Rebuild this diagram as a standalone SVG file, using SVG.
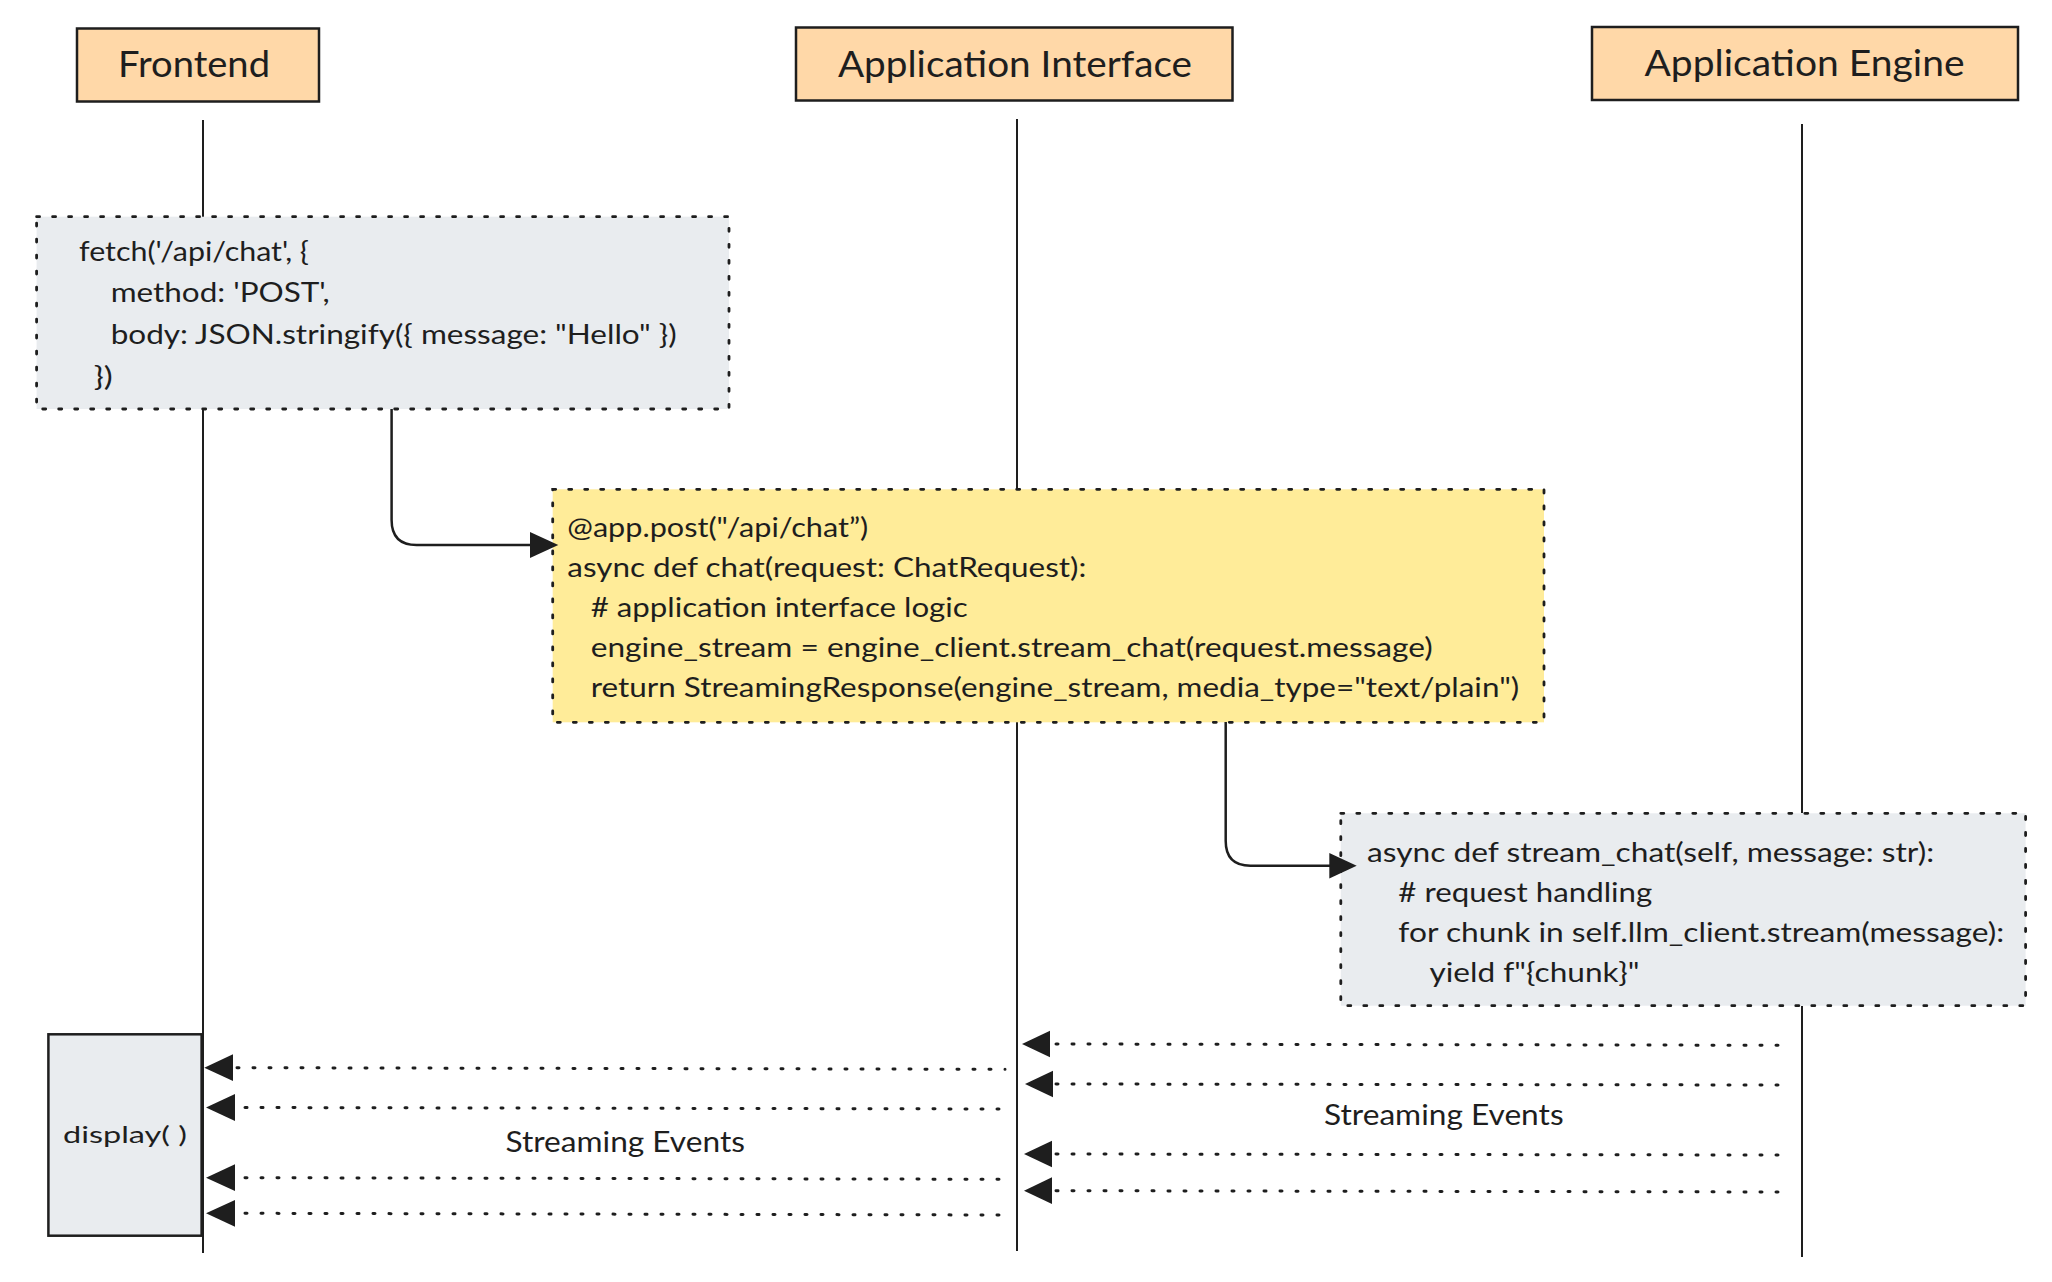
<svg xmlns="http://www.w3.org/2000/svg" width="2052" height="1282" viewBox="0 0 2052 1282">
<defs>
<style>
.hdr{fill:#ffd8a8;stroke:#1e1e1e;stroke-width:2.5}
.code{stroke:#1e1e1e;stroke-width:2.8;stroke-dasharray:3 13;stroke-linecap:round}
.gray{fill:#e9ecef}
.yel{fill:#ffec99}
.life{stroke:#1e1e1e;stroke-width:2;fill:none}
.conn{stroke:#1e1e1e;stroke-width:2.5;fill:none}
.dot{stroke:#1e1e1e;stroke-width:3;fill:none;stroke-dasharray:2 14;stroke-linecap:round}
.head{fill:#1e1e1e}
text{font-family:Lato,"Noto Sans",sans-serif;fill:#1e1e1e}
.ht{font-size:36px;text-anchor:start}
.ct{font-size:27px}
.lt{font-size:28px}
</style>
</defs>
<rect width="2052" height="1282" fill="#ffffff"/>
<g id="lifelines">
<path class="life" d="M203 120V217M203 409V1253"/>
<path class="life" d="M1017 119V489M1017 722V1251"/>
<path class="life" d="M1802 124V813M1802 1006V1257"/>
</g>
<g id="frontend">
<rect class="hdr" x="77" y="28.5" width="242" height="73"/>
<text class="ht" x="118" y="77" textLength="152" lengthAdjust="spacingAndGlyphs">Frontend</text>
</g>
<g id="app-interface">
<rect class="hdr" x="796" y="27.5" width="436.5" height="73"/>
<text class="ht" x="838" y="77" textLength="354" lengthAdjust="spacingAndGlyphs">Application Interface</text>
</g>
<g id="app-engine">
<rect class="hdr" x="1592" y="27" width="426" height="73"/>
<text class="ht" x="1644.5" y="76" textLength="320" lengthAdjust="spacingAndGlyphs">Application Engine</text>
</g>
<g id="fetch-code">
<rect class="code gray" x="36.6" y="216.7" width="692.4" height="192.3"/>
<text class="ct" x="79" y="260.5" textLength="230" lengthAdjust="spacingAndGlyphs">fetch('/api/chat', {</text>
<text class="ct" x="110.7" y="302" textLength="219" lengthAdjust="spacingAndGlyphs">method: 'POST',</text>
<text class="ct" x="110.7" y="343.5" textLength="566" lengthAdjust="spacingAndGlyphs">body: JSON.stringify({ message: "Hello" })</text>
<text class="ct" x="93.7" y="385.5" textLength="19" lengthAdjust="spacingAndGlyphs">})</text>
</g>
<g id="interface-code">
<rect class="code yel" x="552.7" y="489.3" width="991.3" height="233"/>
<text class="ct" x="567.3" y="536.7" textLength="301" lengthAdjust="spacingAndGlyphs">@app.post("/api/chat”)</text>
<text class="ct" x="567.3" y="576.7" textLength="519" lengthAdjust="spacingAndGlyphs">async def chat(request: ChatRequest):</text>
<text class="ct" x="590.7" y="616.7" textLength="377" lengthAdjust="spacingAndGlyphs"># application interface logic</text>
<text class="ct" x="590.7" y="656.7" textLength="842" lengthAdjust="spacingAndGlyphs">engine_stream = engine_client.stream_chat(request.message)</text>
<text class="ct" x="590.7" y="697" textLength="928.5" lengthAdjust="spacingAndGlyphs">return StreamingResponse(engine_stream, media_type="text/plain")</text>
</g>
<g id="engine-code">
<rect class="code gray" x="1340.8" y="813.3" width="684.8" height="192.4"/>
<text class="ct" x="1367.1" y="862" textLength="567" lengthAdjust="spacingAndGlyphs">async def stream_chat(self, message: str):</text>
<text class="ct" x="1398.3" y="902" textLength="254" lengthAdjust="spacingAndGlyphs"># request handling</text>
<text class="ct" x="1398.3" y="942" textLength="606" lengthAdjust="spacingAndGlyphs">for chunk in self.llm_client.stream(message):</text>
<text class="ct" x="1429.5" y="982" textLength="210" lengthAdjust="spacingAndGlyphs">yield f"{chunk}"</text>
</g>
<g id="display">
<rect x="48.4" y="1034.3" width="153.2" height="201.4" fill="#e9ecef" stroke="#1e1e1e" stroke-width="2.5"/>
<text x="125" y="1143.3" font-size="24" text-anchor="middle" textLength="124" lengthAdjust="spacingAndGlyphs">display( )</text>
</g>
<g id="connectors">
<path class="conn" d="M391.6 409V520Q391.6 545 416.6 545H532"/>
<path class="head" d="M558.3 545L530 532V558Z"/>
<path class="conn" d="M1225.7 722V841Q1225.7 865.7 1250.4 865.7H1331"/>
<path class="head" d="M1356.7 865.7L1329.3 853V878.4Z"/>
<path class="dot" d="M237 1067.7L1005 1069.3"/>
<path class="head" d="M204.3 1067.7L233 1054.3V1081Z"/>
<path class="dot" d="M245 1107.5L1005 1109"/>
<path class="head" d="M206 1107.5L235 1094V1121Z"/>
<path class="dot" d="M245 1177.7L1005 1179.3"/>
<path class="head" d="M206 1177.7L235 1164.3V1191Z"/>
<path class="dot" d="M245 1213.3L1005 1215"/>
<path class="head" d="M206 1213.3L235 1200V1226.7Z"/>
<path class="dot" d="M1056 1044L1785 1045.3"/>
<path class="head" d="M1022 1044L1050 1030.7V1057.3Z"/>
<path class="dot" d="M1056 1084L1785 1085"/>
<path class="head" d="M1025 1084L1053 1070.7V1097.3Z"/>
<path class="dot" d="M1056 1154L1785 1155"/>
<path class="head" d="M1024 1154L1052 1140.7V1167.3Z"/>
<path class="dot" d="M1056 1190.7L1785 1192"/>
<path class="head" d="M1024 1190.7L1052 1177.3V1204Z"/>
<text class="lt" x="625.2" y="1151.5" text-anchor="middle" textLength="239.5" lengthAdjust="spacingAndGlyphs">Streaming Events</text>
<text class="lt" x="1443.8" y="1125" text-anchor="middle" textLength="239.6" lengthAdjust="spacingAndGlyphs">Streaming Events</text>
</g>
</svg>
